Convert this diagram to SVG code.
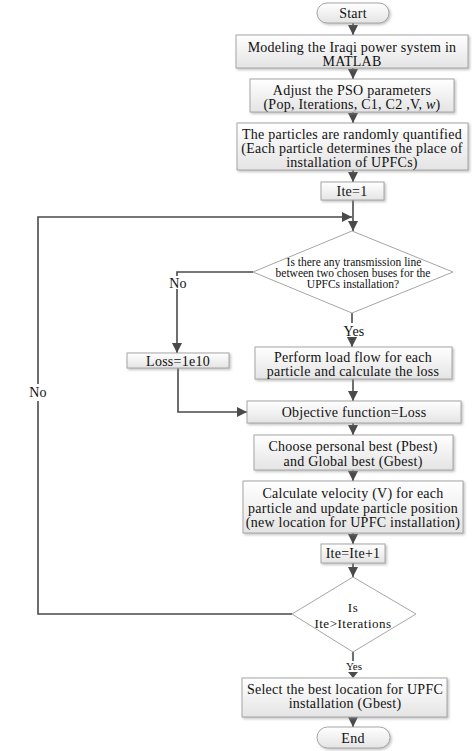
<svg xmlns="http://www.w3.org/2000/svg" width="474" height="751" viewBox="0 0 474 751">
<defs>
<linearGradient id="g" x1="0" y1="0" x2="0" y2="1">
<stop offset="0" stop-color="#ffffff"/>
<stop offset="1" stop-color="#e4e4e4"/>
</linearGradient>
<filter id="sh" x="-10%" y="-20%" width="130%" height="160%">
<feDropShadow dx="1.5" dy="1.5" stdDeviation="1" flood-color="#888" flood-opacity="0.5"/>
</filter>
<marker id="ah" markerUnits="userSpaceOnUse" markerWidth="10" markerHeight="10" viewBox="0 0 10 10" refX="10" refY="5" orient="auto">
<path d="M0,0 L10,5 L0,10 Z" fill="#4a4a4a"/>
</marker>
</defs>
<style>
.b{fill:url(#g);stroke:#a6a6a6;stroke-width:1;filter:url(#sh)}
.d{fill:#ffffff;stroke:#a6a6a6;stroke-width:1}
.t{font-family:"Liberation Serif","Times New Roman",serif;font-size:14px;letter-spacing:0.25px;fill:#111;text-anchor:middle;dominant-baseline:central}
.s{font-family:"Liberation Serif","Times New Roman",serif;font-size:11.5px;fill:#111;text-anchor:middle;dominant-baseline:central}
.m{font-family:"Liberation Serif","Times New Roman",serif;font-size:13px;letter-spacing:0.5px;fill:#111;text-anchor:middle;dominant-baseline:central}
.y{font-family:"Liberation Serif","Times New Roman",serif;font-size:11px;fill:#111;text-anchor:middle;dominant-baseline:central}
.c{fill:none;stroke:#4a4a4a;stroke-width:1.6}
.a{marker-end:url(#ah)}
</style>
<g id="connectors">
<line class="c a" x1="353" y1="23" x2="353" y2="35"/>
<line class="c a" x1="353" y1="68" x2="353" y2="79"/>
<line class="c a" x1="353" y1="112" x2="353" y2="123"/>
<line class="c a" x1="353" y1="170" x2="353" y2="182"/>
<line class="c a" x1="353" y1="200" x2="353" y2="231"/>
<polyline class="c a" points="38,384 38,217 352,217"/>
<polyline class="c" points="292,614 38,614 38,401"/>
<polyline class="c" points="253,272 177,272 177,276"/>
<line class="c a" x1="177" y1="289" x2="177" y2="353"/>
<line class="c" x1="352" y1="313" x2="352" y2="323"/>
<line class="c a" x1="352" y1="338" x2="352" y2="347"/>
<polyline class="c a" points="178,368 178,412 247,412"/>
<line class="c a" x1="353" y1="379" x2="353" y2="401"/>
<line class="c a" x1="353" y1="423" x2="353" y2="435"/>
<line class="c a" x1="353" y1="470" x2="353" y2="481"/>
<line class="c a" x1="353" y1="533" x2="353" y2="544"/>
<line class="c a" x1="353" y1="563" x2="353" y2="577"/>
<line class="c" x1="353" y1="652" x2="353" y2="661"/>
<polygon points="348,672 358,672 353,678" fill="#4a4a4a"/>
<line class="c a" x1="353" y1="717" x2="353" y2="727"/>
<text class="t" x="178" y="283">No</text>
<text class="t" x="38" y="392">No</text>
<text class="t" x="354" y="331">Yes</text>
<text class="y" x="354" y="666">Yes</text>
</g>
<g id="start"><rect class="b" x="317" y="3" width="72" height="20" rx="10"/><text class="t" x="353" y="13">Start</text></g>
<g id="model"><rect class="b" x="236" y="35" width="232" height="33"/><text class="t" x="352" y="47">Modeling the Iraqi power system in</text><text class="t" x="352" y="61">MATLAB</text></g>
<g id="adjust"><rect class="b" x="250" y="79" width="204" height="33"/><text class="t" x="352" y="90">Adjust the PSO parameters</text><text class="t" x="352" y="104">(Pop, Iterations, C1, C2 ,V, <tspan font-style="italic">w</tspan>)</text></g>
<g id="particles"><rect class="b" x="237" y="123" width="231" height="47"/><text class="t" x="352" y="134">The particles are randomly quantified</text><text class="t" x="352" y="148">(Each particle determines the place of</text><text class="t" x="352" y="162">installation of UPFCs)</text></g>
<g id="ite1"><rect class="b" x="321" y="182" width="63" height="18"/><text class="t" x="352" y="191">Ite=1</text></g>
<g id="dec1"><polygon class="d" points="352,231 453,272 352,313 253,272"/><text class="s" x="354" y="262">Is there any transmission line</text><text class="s" x="353" y="273">between two chosen buses for the</text><text class="s" x="353" y="284">UPFCs installation?</text></g>
<g id="loss"><rect class="b" x="127" y="353" width="102" height="15"/><text class="t" x="178" y="361">Loss=1e10</text></g>
<g id="loadflow"><rect class="b" x="255" y="347" width="197" height="32"/><text class="t" x="353" y="357">Perform load flow for each</text><text class="t" x="353" y="371">particle and calculate the loss</text></g>
<g id="objective"><rect class="b" x="247" y="401" width="214" height="22"/><text class="t" x="354" y="412">Objective function=Loss</text></g>
<g id="best"><rect class="b" x="254" y="435" width="199" height="35"/><text class="t" x="353" y="446">Choose personal best (Pbest)</text><text class="t" x="353" y="461">and Global best (Gbest)</text></g>
<g id="velocity"><rect class="b" x="243" y="481" width="220" height="52"/><text class="t" x="353" y="493">Calculate velocity (V) for each</text><text class="t" x="353" y="508">particle and update particle position</text><text class="t" x="353" y="522">(new location for UPFC installation)</text></g>
<g id="iteinc"><rect class="b" x="321" y="544" width="64" height="19"/><text class="t" x="353" y="553">Ite=Ite+1</text></g>
<g id="dec2"><polygon class="d" points="353,577 416,614 353,652 292,614"/><text class="m" x="353" y="607">Is</text><text class="m" x="353" y="623">Ite&gt;Iterations</text></g>
<g id="select"><rect class="b" x="242" y="678" width="205" height="39"/><text class="t" x="345" y="689">Select the best location for UPFC</text><text class="t" x="345" y="703">installation (Gbest)</text></g>
<g id="end"><rect class="b" x="317" y="727" width="73" height="21" rx="10.5"/><text class="t" x="353" y="738">End</text></g>
</svg>
